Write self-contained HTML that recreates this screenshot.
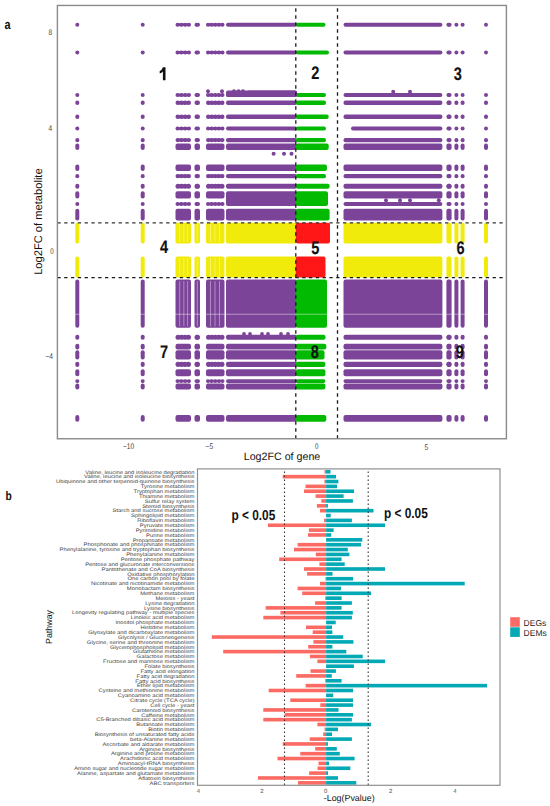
<!DOCTYPE html>
<html><head><meta charset="utf-8"><style>
html,body{margin:0;padding:0;background:#fff;}
body{width:550px;height:806px;overflow:hidden;position:relative;}
svg{position:absolute;left:0;top:0;}
text{font-family:"Liberation Sans", sans-serif;text-rendering:geometricPrecision;}
</style></head><body>
<svg width="550" height="806" viewBox="0 0 550 806">
<rect x="0" y="0" width="550" height="806" fill="#fff"/>
<!-- panel a -->
<text transform="translate(7.45,28.6) scale(0.82,1)" font-size="13.3" font-weight="bold" text-anchor="middle" fill="#111">a</text>
<g>
<rect x="75.30" y="22.70" width="4.00" height="4.00" rx="2.00" fill="#7C4499"/>
<rect x="140.70" y="22.70" width="4.00" height="4.00" rx="2.00" fill="#7C4499"/>
<circle cx="177.50" cy="24.70" r="2.00" fill="#7C4499"/>
<circle cx="181.33" cy="24.70" r="2.00" fill="#7C4499"/>
<circle cx="185.17" cy="24.70" r="2.00" fill="#7C4499"/>
<circle cx="189.00" cy="24.70" r="2.00" fill="#7C4499"/>
<rect x="177.50" y="23.26" width="11.50" height="2.88" fill="#7C4499"/>
<circle cx="196.50" cy="24.70" r="2.00" fill="#7C4499"/>
<circle cx="198.00" cy="24.70" r="2.00" fill="#7C4499"/>
<rect x="196.50" y="23.26" width="1.50" height="2.88" fill="#7C4499"/>
<circle cx="208.00" cy="24.70" r="2.00" fill="#7C4499"/>
<circle cx="211.62" cy="24.70" r="2.00" fill="#7C4499"/>
<circle cx="215.25" cy="24.70" r="2.00" fill="#7C4499"/>
<circle cx="218.88" cy="24.70" r="2.00" fill="#7C4499"/>
<circle cx="222.50" cy="24.70" r="2.00" fill="#7C4499"/>
<rect x="208.00" y="23.26" width="14.50" height="2.88" fill="#7C4499"/>
<circle cx="448.40" cy="24.70" r="2.00" fill="#7C4499"/>
<circle cx="449.60" cy="24.70" r="2.00" fill="#7C4499"/>
<rect x="448.40" y="23.26" width="1.20" height="2.88" fill="#7C4499"/>
<rect x="454.40" y="22.70" width="4.00" height="4.00" rx="2.00" fill="#7C4499"/>
<rect x="460.60" y="22.70" width="4.00" height="4.00" rx="2.00" fill="#7C4499"/>
<rect x="484.00" y="22.70" width="4.00" height="4.00" rx="2.00" fill="#7C4499"/>
<rect x="226.00" y="22.70" width="71.00" height="4.00" rx="2.00" fill="#7C4499"/>
<rect x="295.80" y="22.70" width="29.70" height="4.00" rx="2.00" fill="#03BA03"/>
<rect x="343.50" y="22.70" width="98.90" height="4.00" rx="2.00" fill="#7C4499"/>
<rect x="75.30" y="50.40" width="4.00" height="4.00" rx="2.00" fill="#7C4499"/>
<rect x="140.70" y="50.40" width="4.00" height="4.00" rx="2.00" fill="#7C4499"/>
<circle cx="177.50" cy="52.40" r="2.00" fill="#7C4499"/>
<circle cx="181.33" cy="52.40" r="2.00" fill="#7C4499"/>
<circle cx="185.17" cy="52.40" r="2.00" fill="#7C4499"/>
<circle cx="189.00" cy="52.40" r="2.00" fill="#7C4499"/>
<rect x="177.50" y="50.96" width="11.50" height="2.88" fill="#7C4499"/>
<circle cx="196.50" cy="52.40" r="2.00" fill="#7C4499"/>
<circle cx="198.00" cy="52.40" r="2.00" fill="#7C4499"/>
<rect x="196.50" y="50.96" width="1.50" height="2.88" fill="#7C4499"/>
<circle cx="208.00" cy="52.40" r="2.00" fill="#7C4499"/>
<circle cx="211.62" cy="52.40" r="2.00" fill="#7C4499"/>
<circle cx="215.25" cy="52.40" r="2.00" fill="#7C4499"/>
<circle cx="218.88" cy="52.40" r="2.00" fill="#7C4499"/>
<circle cx="222.50" cy="52.40" r="2.00" fill="#7C4499"/>
<rect x="208.00" y="50.96" width="14.50" height="2.88" fill="#7C4499"/>
<circle cx="448.40" cy="52.40" r="2.00" fill="#7C4499"/>
<circle cx="449.60" cy="52.40" r="2.00" fill="#7C4499"/>
<rect x="448.40" y="50.96" width="1.20" height="2.88" fill="#7C4499"/>
<rect x="454.40" y="50.40" width="4.00" height="4.00" rx="2.00" fill="#7C4499"/>
<rect x="460.60" y="50.40" width="4.00" height="4.00" rx="2.00" fill="#7C4499"/>
<rect x="484.00" y="50.40" width="4.00" height="4.00" rx="2.00" fill="#7C4499"/>
<rect x="226.00" y="50.40" width="71.00" height="4.00" rx="2.00" fill="#7C4499"/>
<rect x="295.80" y="50.40" width="33.20" height="4.00" rx="2.00" fill="#03BA03"/>
<rect x="343.50" y="50.40" width="98.90" height="4.00" rx="2.00" fill="#7C4499"/>
<rect x="75.30" y="93.10" width="4.00" height="4.00" rx="2.00" fill="#7C4499"/>
<rect x="140.70" y="93.10" width="4.00" height="4.00" rx="2.00" fill="#7C4499"/>
<circle cx="177.50" cy="95.10" r="2.00" fill="#7C4499"/>
<circle cx="181.33" cy="95.10" r="2.00" fill="#7C4499"/>
<circle cx="185.17" cy="95.10" r="2.00" fill="#7C4499"/>
<circle cx="189.00" cy="95.10" r="2.00" fill="#7C4499"/>
<rect x="177.50" y="93.66" width="11.50" height="2.88" fill="#7C4499"/>
<circle cx="196.50" cy="95.10" r="2.00" fill="#7C4499"/>
<circle cx="198.00" cy="95.10" r="2.00" fill="#7C4499"/>
<rect x="196.50" y="93.66" width="1.50" height="2.88" fill="#7C4499"/>
<circle cx="208.00" cy="95.10" r="2.00" fill="#7C4499"/>
<circle cx="211.62" cy="95.10" r="2.00" fill="#7C4499"/>
<circle cx="215.25" cy="95.10" r="2.00" fill="#7C4499"/>
<circle cx="218.88" cy="95.10" r="2.00" fill="#7C4499"/>
<circle cx="222.50" cy="95.10" r="2.00" fill="#7C4499"/>
<rect x="208.00" y="93.66" width="14.50" height="2.88" fill="#7C4499"/>
<circle cx="448.40" cy="95.10" r="2.00" fill="#7C4499"/>
<circle cx="449.60" cy="95.10" r="2.00" fill="#7C4499"/>
<rect x="448.40" y="93.66" width="1.20" height="2.88" fill="#7C4499"/>
<rect x="454.40" y="93.10" width="4.00" height="4.00" rx="2.00" fill="#7C4499"/>
<rect x="460.60" y="93.10" width="4.00" height="4.00" rx="2.00" fill="#7C4499"/>
<rect x="484.00" y="93.10" width="4.00" height="4.00" rx="2.00" fill="#7C4499"/>
<rect x="226.00" y="93.10" width="71.00" height="4.00" rx="2.00" fill="#7C4499"/>
<rect x="226.00" y="90.60" width="71.00" height="6.50" rx="2.00" fill="#7C4499"/>
<rect x="295.80" y="93.10" width="30.20" height="4.00" rx="2.00" fill="#03BA03"/>
<rect x="343.50" y="93.10" width="98.90" height="4.00" rx="2.00" fill="#7C4499"/>
<rect x="247.00" y="90.60" width="50.00" height="6.50" rx="2.00" fill="#7C4499"/>
<circle cx="208.00" cy="91.20" r="2.0" fill="#7C4499"/>
<circle cx="222.00" cy="91.20" r="2.0" fill="#7C4499"/>
<circle cx="234.00" cy="91.20" r="2.0" fill="#7C4499"/>
<circle cx="238.50" cy="91.20" r="2.0" fill="#7C4499"/>
<circle cx="243.00" cy="91.20" r="2.0" fill="#7C4499"/>
<circle cx="393.20" cy="91.80" r="2.0" fill="#7C4499"/>
<circle cx="410.00" cy="91.80" r="2.0" fill="#7C4499"/>
<rect x="75.30" y="100.60" width="4.00" height="4.50" rx="2.00" fill="#7C4499"/>
<rect x="140.70" y="100.60" width="4.00" height="4.50" rx="2.00" fill="#7C4499"/>
<circle cx="177.75" cy="102.85" r="2.25" fill="#7C4499"/>
<circle cx="181.42" cy="102.85" r="2.25" fill="#7C4499"/>
<circle cx="185.08" cy="102.85" r="2.25" fill="#7C4499"/>
<circle cx="188.75" cy="102.85" r="2.25" fill="#7C4499"/>
<rect x="177.75" y="101.23" width="11.00" height="3.24" fill="#7C4499"/>
<circle cx="196.75" cy="102.85" r="2.25" fill="#7C4499"/>
<circle cx="197.75" cy="102.85" r="2.25" fill="#7C4499"/>
<rect x="196.75" y="101.23" width="1.00" height="3.24" fill="#7C4499"/>
<circle cx="208.25" cy="102.85" r="2.25" fill="#7C4499"/>
<circle cx="211.75" cy="102.85" r="2.25" fill="#7C4499"/>
<circle cx="215.25" cy="102.85" r="2.25" fill="#7C4499"/>
<circle cx="218.75" cy="102.85" r="2.25" fill="#7C4499"/>
<circle cx="222.25" cy="102.85" r="2.25" fill="#7C4499"/>
<rect x="208.25" y="101.23" width="14.00" height="3.24" fill="#7C4499"/>
<circle cx="448.65" cy="102.85" r="2.25" fill="#7C4499"/>
<circle cx="449.35" cy="102.85" r="2.25" fill="#7C4499"/>
<rect x="448.65" y="101.23" width="0.70" height="3.24" fill="#7C4499"/>
<rect x="454.40" y="100.60" width="4.00" height="4.50" rx="2.00" fill="#7C4499"/>
<rect x="460.60" y="100.60" width="4.00" height="4.50" rx="2.00" fill="#7C4499"/>
<rect x="484.00" y="100.60" width="4.00" height="4.50" rx="2.00" fill="#7C4499"/>
<rect x="226.00" y="100.60" width="71.00" height="4.50" rx="2.00" fill="#7C4499"/>
<rect x="295.80" y="100.60" width="30.20" height="4.50" rx="2.00" fill="#03BA03"/>
<rect x="343.50" y="100.60" width="98.90" height="4.50" rx="2.00" fill="#7C4499"/>
<rect x="75.30" y="114.60" width="4.00" height="4.40" rx="2.00" fill="#7C4499"/>
<rect x="140.70" y="114.60" width="4.00" height="4.40" rx="2.00" fill="#7C4499"/>
<circle cx="177.70" cy="116.80" r="2.20" fill="#7C4499"/>
<circle cx="181.40" cy="116.80" r="2.20" fill="#7C4499"/>
<circle cx="185.10" cy="116.80" r="2.20" fill="#7C4499"/>
<circle cx="188.80" cy="116.80" r="2.20" fill="#7C4499"/>
<rect x="177.70" y="115.22" width="11.10" height="3.17" fill="#7C4499"/>
<circle cx="196.70" cy="116.80" r="2.20" fill="#7C4499"/>
<circle cx="197.80" cy="116.80" r="2.20" fill="#7C4499"/>
<rect x="196.70" y="115.22" width="1.10" height="3.17" fill="#7C4499"/>
<circle cx="208.20" cy="116.80" r="2.20" fill="#7C4499"/>
<circle cx="211.72" cy="116.80" r="2.20" fill="#7C4499"/>
<circle cx="215.25" cy="116.80" r="2.20" fill="#7C4499"/>
<circle cx="218.77" cy="116.80" r="2.20" fill="#7C4499"/>
<circle cx="222.30" cy="116.80" r="2.20" fill="#7C4499"/>
<rect x="208.20" y="115.22" width="14.10" height="3.17" fill="#7C4499"/>
<circle cx="448.60" cy="116.80" r="2.20" fill="#7C4499"/>
<circle cx="449.40" cy="116.80" r="2.20" fill="#7C4499"/>
<rect x="448.60" y="115.22" width="0.80" height="3.17" fill="#7C4499"/>
<rect x="454.40" y="114.60" width="4.00" height="4.40" rx="2.00" fill="#7C4499"/>
<rect x="460.60" y="114.60" width="4.00" height="4.40" rx="2.00" fill="#7C4499"/>
<rect x="484.00" y="114.60" width="4.00" height="4.40" rx="2.00" fill="#7C4499"/>
<rect x="226.00" y="114.60" width="71.00" height="4.40" rx="2.00" fill="#7C4499"/>
<rect x="295.80" y="114.60" width="32.90" height="4.40" rx="2.00" fill="#03BA03"/>
<rect x="343.50" y="114.60" width="98.90" height="4.40" rx="2.00" fill="#7C4499"/>
<rect x="75.30" y="126.50" width="4.00" height="4.10" rx="2.00" fill="#7C4499"/>
<rect x="140.70" y="126.50" width="4.00" height="4.10" rx="2.00" fill="#7C4499"/>
<circle cx="177.55" cy="128.55" r="2.05" fill="#7C4499"/>
<circle cx="181.35" cy="128.55" r="2.05" fill="#7C4499"/>
<circle cx="185.15" cy="128.55" r="2.05" fill="#7C4499"/>
<circle cx="188.95" cy="128.55" r="2.05" fill="#7C4499"/>
<rect x="177.55" y="127.07" width="11.40" height="2.95" fill="#7C4499"/>
<circle cx="196.55" cy="128.55" r="2.05" fill="#7C4499"/>
<circle cx="197.95" cy="128.55" r="2.05" fill="#7C4499"/>
<rect x="196.55" y="127.07" width="1.40" height="2.95" fill="#7C4499"/>
<circle cx="208.05" cy="128.55" r="2.05" fill="#7C4499"/>
<circle cx="211.65" cy="128.55" r="2.05" fill="#7C4499"/>
<circle cx="215.25" cy="128.55" r="2.05" fill="#7C4499"/>
<circle cx="218.85" cy="128.55" r="2.05" fill="#7C4499"/>
<circle cx="222.45" cy="128.55" r="2.05" fill="#7C4499"/>
<rect x="208.05" y="127.07" width="14.40" height="2.95" fill="#7C4499"/>
<circle cx="448.45" cy="128.55" r="2.05" fill="#7C4499"/>
<circle cx="449.55" cy="128.55" r="2.05" fill="#7C4499"/>
<rect x="448.45" y="127.07" width="1.10" height="2.95" fill="#7C4499"/>
<rect x="454.40" y="126.50" width="4.00" height="4.10" rx="2.00" fill="#7C4499"/>
<rect x="460.60" y="126.50" width="4.00" height="4.10" rx="2.00" fill="#7C4499"/>
<rect x="484.00" y="126.50" width="4.00" height="4.10" rx="2.00" fill="#7C4499"/>
<rect x="226.00" y="126.50" width="71.00" height="4.10" rx="2.00" fill="#7C4499"/>
<rect x="295.80" y="126.50" width="30.20" height="4.10" rx="2.00" fill="#03BA03"/>
<rect x="351.00" y="126.50" width="91.40" height="4.10" rx="2.00" fill="#7C4499"/>
<rect x="75.30" y="137.90" width="4.00" height="4.30" rx="2.00" fill="#7C4499"/>
<rect x="140.70" y="137.90" width="4.00" height="4.30" rx="2.00" fill="#7C4499"/>
<circle cx="177.65" cy="140.05" r="2.15" fill="#7C4499"/>
<circle cx="181.38" cy="140.05" r="2.15" fill="#7C4499"/>
<circle cx="185.12" cy="140.05" r="2.15" fill="#7C4499"/>
<circle cx="188.85" cy="140.05" r="2.15" fill="#7C4499"/>
<rect x="177.65" y="138.50" width="11.20" height="3.10" fill="#7C4499"/>
<circle cx="196.65" cy="140.05" r="2.15" fill="#7C4499"/>
<circle cx="197.85" cy="140.05" r="2.15" fill="#7C4499"/>
<rect x="196.65" y="138.50" width="1.20" height="3.10" fill="#7C4499"/>
<circle cx="208.15" cy="140.05" r="2.15" fill="#7C4499"/>
<circle cx="211.70" cy="140.05" r="2.15" fill="#7C4499"/>
<circle cx="215.25" cy="140.05" r="2.15" fill="#7C4499"/>
<circle cx="218.80" cy="140.05" r="2.15" fill="#7C4499"/>
<circle cx="222.35" cy="140.05" r="2.15" fill="#7C4499"/>
<rect x="208.15" y="138.50" width="14.20" height="3.10" fill="#7C4499"/>
<circle cx="448.55" cy="140.05" r="2.15" fill="#7C4499"/>
<circle cx="449.45" cy="140.05" r="2.15" fill="#7C4499"/>
<rect x="448.55" y="138.50" width="0.90" height="3.10" fill="#7C4499"/>
<rect x="454.40" y="137.90" width="4.00" height="4.30" rx="2.00" fill="#7C4499"/>
<rect x="460.60" y="137.90" width="4.00" height="4.30" rx="2.00" fill="#7C4499"/>
<rect x="484.00" y="137.90" width="4.00" height="4.30" rx="2.00" fill="#7C4499"/>
<rect x="226.00" y="137.90" width="71.00" height="4.30" rx="2.00" fill="#7C4499"/>
<rect x="295.80" y="137.90" width="30.20" height="4.30" rx="2.00" fill="#03BA03"/>
<rect x="343.50" y="137.90" width="98.90" height="4.30" rx="2.00" fill="#7C4499"/>
<rect x="75.30" y="143.40" width="4.00" height="6.70" rx="2.00" fill="#7C4499"/>
<rect x="140.70" y="143.40" width="4.00" height="6.70" rx="2.00" fill="#7C4499"/>
<rect x="175.50" y="143.40" width="15.50" height="6.70" rx="2.00" fill="#7C4499"/>
<rect x="194.50" y="143.40" width="5.50" height="6.70" rx="2.00" fill="#7C4499"/>
<rect x="206.00" y="143.40" width="18.50" height="6.70" rx="2.00" fill="#7C4499"/>
<rect x="446.40" y="143.40" width="5.20" height="6.70" rx="2.00" fill="#7C4499"/>
<rect x="454.40" y="143.40" width="4.00" height="6.70" rx="2.00" fill="#7C4499"/>
<rect x="460.60" y="143.40" width="4.00" height="6.70" rx="2.00" fill="#7C4499"/>
<rect x="484.00" y="143.40" width="4.00" height="6.70" rx="2.00" fill="#7C4499"/>
<rect x="226.00" y="143.40" width="71.00" height="6.70" rx="2.00" fill="#7C4499"/>
<rect x="295.80" y="143.40" width="32.90" height="6.70" rx="2.00" fill="#03BA03"/>
<rect x="343.50" y="143.40" width="98.90" height="6.70" rx="2.00" fill="#7C4499"/>
<circle cx="273.60" cy="153.70" r="2.0" fill="#7C4499"/>
<circle cx="284.00" cy="153.70" r="2.0" fill="#7C4499"/>
<circle cx="291.50" cy="153.70" r="2.0" fill="#7C4499"/>
<rect x="75.30" y="164.60" width="4.00" height="6.30" rx="2.00" fill="#7C4499"/>
<rect x="140.70" y="164.60" width="4.00" height="6.30" rx="2.00" fill="#7C4499"/>
<rect x="175.50" y="164.60" width="15.50" height="6.30" rx="2.00" fill="#7C4499"/>
<rect x="194.50" y="164.60" width="5.50" height="6.30" rx="2.00" fill="#7C4499"/>
<rect x="206.00" y="164.60" width="18.50" height="6.30" rx="2.00" fill="#7C4499"/>
<rect x="446.40" y="164.60" width="5.20" height="6.30" rx="2.00" fill="#7C4499"/>
<rect x="454.40" y="164.60" width="4.00" height="6.30" rx="2.00" fill="#7C4499"/>
<rect x="460.60" y="164.60" width="4.00" height="6.30" rx="2.00" fill="#7C4499"/>
<rect x="484.00" y="164.60" width="4.00" height="6.30" rx="2.00" fill="#7C4499"/>
<rect x="226.00" y="164.60" width="71.00" height="6.30" rx="2.00" fill="#7C4499"/>
<rect x="295.80" y="164.60" width="31.20" height="6.30" rx="2.00" fill="#03BA03"/>
<rect x="343.50" y="164.60" width="98.90" height="6.30" rx="2.00" fill="#7C4499"/>
<rect x="75.30" y="173.90" width="4.00" height="4.40" rx="2.00" fill="#7C4499"/>
<rect x="140.70" y="173.90" width="4.00" height="4.40" rx="2.00" fill="#7C4499"/>
<circle cx="177.70" cy="176.10" r="2.20" fill="#7C4499"/>
<circle cx="181.40" cy="176.10" r="2.20" fill="#7C4499"/>
<circle cx="185.10" cy="176.10" r="2.20" fill="#7C4499"/>
<circle cx="188.80" cy="176.10" r="2.20" fill="#7C4499"/>
<rect x="177.70" y="174.52" width="11.10" height="3.17" fill="#7C4499"/>
<circle cx="196.70" cy="176.10" r="2.20" fill="#7C4499"/>
<circle cx="197.80" cy="176.10" r="2.20" fill="#7C4499"/>
<rect x="196.70" y="174.52" width="1.10" height="3.17" fill="#7C4499"/>
<circle cx="208.20" cy="176.10" r="2.20" fill="#7C4499"/>
<circle cx="211.72" cy="176.10" r="2.20" fill="#7C4499"/>
<circle cx="215.25" cy="176.10" r="2.20" fill="#7C4499"/>
<circle cx="218.77" cy="176.10" r="2.20" fill="#7C4499"/>
<circle cx="222.30" cy="176.10" r="2.20" fill="#7C4499"/>
<rect x="208.20" y="174.52" width="14.10" height="3.17" fill="#7C4499"/>
<circle cx="448.60" cy="176.10" r="2.20" fill="#7C4499"/>
<circle cx="449.40" cy="176.10" r="2.20" fill="#7C4499"/>
<rect x="448.60" y="174.52" width="0.80" height="3.17" fill="#7C4499"/>
<rect x="454.40" y="173.90" width="4.00" height="4.40" rx="2.00" fill="#7C4499"/>
<rect x="460.60" y="173.90" width="4.00" height="4.40" rx="2.00" fill="#7C4499"/>
<rect x="484.00" y="173.90" width="4.00" height="4.40" rx="2.00" fill="#7C4499"/>
<rect x="226.00" y="173.90" width="71.00" height="4.40" rx="2.00" fill="#7C4499"/>
<rect x="295.80" y="173.90" width="30.20" height="4.40" rx="2.00" fill="#03BA03"/>
<rect x="343.50" y="173.90" width="98.90" height="4.40" rx="2.00" fill="#7C4499"/>
<rect x="75.30" y="183.70" width="4.00" height="5.00" rx="2.00" fill="#7C4499"/>
<rect x="140.70" y="183.70" width="4.00" height="5.00" rx="2.00" fill="#7C4499"/>
<circle cx="178.00" cy="186.20" r="2.50" fill="#7C4499"/>
<circle cx="181.50" cy="186.20" r="2.50" fill="#7C4499"/>
<circle cx="185.00" cy="186.20" r="2.50" fill="#7C4499"/>
<circle cx="188.50" cy="186.20" r="2.50" fill="#7C4499"/>
<rect x="178.00" y="184.40" width="10.50" height="3.60" fill="#7C4499"/>
<circle cx="197.00" cy="186.20" r="2.50" fill="#7C4499"/>
<circle cx="197.50" cy="186.20" r="2.50" fill="#7C4499"/>
<rect x="197.00" y="184.40" width="0.50" height="3.60" fill="#7C4499"/>
<circle cx="208.50" cy="186.20" r="2.50" fill="#7C4499"/>
<circle cx="211.88" cy="186.20" r="2.50" fill="#7C4499"/>
<circle cx="215.25" cy="186.20" r="2.50" fill="#7C4499"/>
<circle cx="218.62" cy="186.20" r="2.50" fill="#7C4499"/>
<circle cx="222.00" cy="186.20" r="2.50" fill="#7C4499"/>
<rect x="208.50" y="184.40" width="13.50" height="3.60" fill="#7C4499"/>
<circle cx="448.90" cy="186.20" r="2.50" fill="#7C4499"/>
<circle cx="449.10" cy="186.20" r="2.50" fill="#7C4499"/>
<rect x="448.90" y="184.40" width="0.20" height="3.60" fill="#7C4499"/>
<rect x="454.40" y="183.70" width="4.00" height="5.00" rx="2.00" fill="#7C4499"/>
<rect x="460.60" y="183.70" width="4.00" height="5.00" rx="2.00" fill="#7C4499"/>
<rect x="484.00" y="183.70" width="4.00" height="5.00" rx="2.00" fill="#7C4499"/>
<rect x="226.00" y="183.70" width="71.00" height="5.00" rx="2.00" fill="#7C4499"/>
<rect x="295.80" y="183.70" width="33.80" height="5.00" rx="2.00" fill="#03BA03"/>
<rect x="343.50" y="183.70" width="98.90" height="5.00" rx="2.00" fill="#7C4499"/>
<rect x="75.30" y="191.20" width="4.00" height="7.40" rx="2.00" fill="#7C4499"/>
<rect x="140.70" y="191.20" width="4.00" height="7.40" rx="2.00" fill="#7C4499"/>
<rect x="175.50" y="191.20" width="15.50" height="7.40" rx="2.00" fill="#7C4499"/>
<rect x="194.50" y="191.20" width="5.50" height="7.40" rx="2.00" fill="#7C4499"/>
<rect x="206.00" y="191.20" width="18.50" height="7.40" rx="2.00" fill="#7C4499"/>
<rect x="446.40" y="191.20" width="5.20" height="7.40" rx="2.00" fill="#7C4499"/>
<rect x="454.40" y="191.20" width="4.00" height="7.40" rx="2.00" fill="#7C4499"/>
<rect x="460.60" y="191.20" width="4.00" height="7.40" rx="2.00" fill="#7C4499"/>
<rect x="484.00" y="191.20" width="4.00" height="7.40" rx="2.00" fill="#7C4499"/>
<rect x="75.30" y="202.00" width="4.00" height="3.90" rx="1.95" fill="#7C4499"/>
<rect x="140.70" y="202.00" width="4.00" height="3.90" rx="1.95" fill="#7C4499"/>
<circle cx="177.45" cy="203.95" r="1.95" fill="#7C4499"/>
<circle cx="181.32" cy="203.95" r="1.95" fill="#7C4499"/>
<circle cx="185.18" cy="203.95" r="1.95" fill="#7C4499"/>
<circle cx="189.05" cy="203.95" r="1.95" fill="#7C4499"/>
<rect x="177.45" y="202.55" width="11.60" height="2.81" fill="#7C4499"/>
<circle cx="196.45" cy="203.95" r="1.95" fill="#7C4499"/>
<circle cx="198.05" cy="203.95" r="1.95" fill="#7C4499"/>
<rect x="196.45" y="202.55" width="1.60" height="2.81" fill="#7C4499"/>
<circle cx="207.95" cy="203.95" r="1.95" fill="#7C4499"/>
<circle cx="211.60" cy="203.95" r="1.95" fill="#7C4499"/>
<circle cx="215.25" cy="203.95" r="1.95" fill="#7C4499"/>
<circle cx="218.90" cy="203.95" r="1.95" fill="#7C4499"/>
<circle cx="222.55" cy="203.95" r="1.95" fill="#7C4499"/>
<rect x="207.95" y="202.55" width="14.60" height="2.81" fill="#7C4499"/>
<circle cx="448.35" cy="203.95" r="1.95" fill="#7C4499"/>
<circle cx="449.65" cy="203.95" r="1.95" fill="#7C4499"/>
<rect x="448.35" y="202.55" width="1.30" height="2.81" fill="#7C4499"/>
<rect x="454.40" y="202.00" width="4.00" height="3.90" rx="1.95" fill="#7C4499"/>
<rect x="460.60" y="202.00" width="4.00" height="3.90" rx="1.95" fill="#7C4499"/>
<rect x="484.00" y="202.00" width="4.00" height="3.90" rx="1.95" fill="#7C4499"/>
<rect x="226.00" y="191.20" width="71.00" height="14.70" rx="2.00" fill="#7C4499"/>
<rect x="295.80" y="191.20" width="32.20" height="14.70" rx="2.00" fill="#03BA03"/>
<rect x="343.50" y="191.20" width="98.90" height="7.40" rx="2.00" fill="#7C4499"/>
<rect x="343.50" y="202.00" width="98.90" height="3.90" rx="1.95" fill="#7C4499"/>
<circle cx="386.00" cy="200.20" r="2.0" fill="#7C4499"/>
<circle cx="400.00" cy="200.20" r="2.0" fill="#7C4499"/>
<circle cx="410.00" cy="200.20" r="2.0" fill="#7C4499"/>
<circle cx="438.80" cy="200.20" r="2.0" fill="#7C4499"/>
<rect x="75.30" y="208.80" width="4.00" height="11.60" rx="2.00" fill="#7C4499"/>
<rect x="140.70" y="208.80" width="4.00" height="11.60" rx="2.00" fill="#7C4499"/>
<rect x="175.50" y="208.80" width="15.50" height="11.60" rx="2.00" fill="#7C4499"/>
<rect x="194.50" y="208.80" width="5.50" height="11.60" rx="2.00" fill="#7C4499"/>
<rect x="206.00" y="208.80" width="18.50" height="11.60" rx="2.00" fill="#7C4499"/>
<rect x="446.40" y="208.80" width="5.20" height="11.60" rx="2.00" fill="#7C4499"/>
<rect x="454.40" y="208.80" width="4.00" height="11.60" rx="2.00" fill="#7C4499"/>
<rect x="460.60" y="208.80" width="4.00" height="11.60" rx="2.00" fill="#7C4499"/>
<rect x="484.00" y="208.80" width="4.00" height="11.60" rx="2.00" fill="#7C4499"/>
<rect x="226.00" y="208.80" width="71.00" height="11.60" rx="2.00" fill="#7C4499"/>
<rect x="295.80" y="208.80" width="33.80" height="11.60" rx="2.00" fill="#03BA03"/>
<rect x="343.50" y="208.80" width="98.90" height="11.60" rx="2.00" fill="#7C4499"/>
<rect x="75.30" y="222.70" width="4.00" height="20.70" rx="2.00" fill="#F0EB0A"/>
<rect x="140.70" y="222.70" width="4.00" height="20.70" rx="2.00" fill="#F0EB0A"/>
<rect x="175.50" y="222.70" width="15.50" height="20.70" rx="2.00" fill="#F0EB0A"/>
<rect x="179.45" y="224.20" width="0.7" height="17.70" fill="#fff" fill-opacity="0.55"/>
<rect x="183.55" y="224.20" width="0.7" height="17.70" fill="#fff" fill-opacity="0.55"/>
<rect x="187.35" y="224.20" width="0.7" height="17.70" fill="#fff" fill-opacity="0.55"/>
<rect x="194.50" y="222.70" width="5.50" height="20.70" rx="2.00" fill="#F0EB0A"/>
<rect x="196.85" y="224.20" width="0.7" height="17.70" fill="#fff" fill-opacity="0.55"/>
<rect x="206.00" y="222.70" width="18.50" height="20.70" rx="2.00" fill="#F0EB0A"/>
<rect x="210.15" y="224.20" width="0.7" height="17.70" fill="#fff" fill-opacity="0.55"/>
<rect x="214.65" y="224.20" width="0.7" height="17.70" fill="#fff" fill-opacity="0.55"/>
<rect x="219.15" y="224.20" width="0.7" height="17.70" fill="#fff" fill-opacity="0.55"/>
<rect x="446.40" y="222.70" width="5.20" height="20.70" rx="2.00" fill="#F0EB0A"/>
<rect x="454.40" y="222.70" width="4.00" height="20.70" rx="2.00" fill="#F0EB0A"/>
<rect x="460.60" y="222.70" width="4.00" height="20.70" rx="2.00" fill="#F0EB0A"/>
<rect x="484.00" y="222.70" width="4.00" height="20.70" rx="2.00" fill="#F0EB0A"/>
<rect x="226.00" y="222.70" width="71.00" height="20.70" rx="2.00" fill="#F0EB0A"/>
<rect x="295.80" y="222.70" width="34.20" height="20.70" rx="2.00" fill="#FF1616"/>
<rect x="343.50" y="222.70" width="98.90" height="20.70" rx="2.00" fill="#F0EB0A"/>
<rect x="75.30" y="256.60" width="4.00" height="21.00" rx="2.00" fill="#F0EB0A"/>
<rect x="140.70" y="256.60" width="4.00" height="21.00" rx="2.00" fill="#F0EB0A"/>
<rect x="175.50" y="256.60" width="15.50" height="21.00" rx="2.00" fill="#F0EB0A"/>
<rect x="179.45" y="258.10" width="0.7" height="18.00" fill="#fff" fill-opacity="0.55"/>
<rect x="183.55" y="258.10" width="0.7" height="18.00" fill="#fff" fill-opacity="0.55"/>
<rect x="187.35" y="258.10" width="0.7" height="18.00" fill="#fff" fill-opacity="0.55"/>
<rect x="194.50" y="256.60" width="5.50" height="21.00" rx="2.00" fill="#F0EB0A"/>
<rect x="196.85" y="258.10" width="0.7" height="18.00" fill="#fff" fill-opacity="0.55"/>
<rect x="206.00" y="256.60" width="18.50" height="21.00" rx="2.00" fill="#F0EB0A"/>
<rect x="210.15" y="258.10" width="0.7" height="18.00" fill="#fff" fill-opacity="0.55"/>
<rect x="214.65" y="258.10" width="0.7" height="18.00" fill="#fff" fill-opacity="0.55"/>
<rect x="219.15" y="258.10" width="0.7" height="18.00" fill="#fff" fill-opacity="0.55"/>
<rect x="446.40" y="256.60" width="5.20" height="21.00" rx="2.00" fill="#F0EB0A"/>
<rect x="454.40" y="256.60" width="4.00" height="21.00" rx="2.00" fill="#F0EB0A"/>
<rect x="460.60" y="256.60" width="4.00" height="21.00" rx="2.00" fill="#F0EB0A"/>
<rect x="484.00" y="256.60" width="4.00" height="21.00" rx="2.00" fill="#F0EB0A"/>
<rect x="226.00" y="256.60" width="71.00" height="21.00" rx="2.00" fill="#F0EB0A"/>
<rect x="295.80" y="256.60" width="29.70" height="21.00" rx="2.00" fill="#FF1616"/>
<rect x="343.50" y="256.60" width="98.90" height="21.00" rx="2.00" fill="#F0EB0A"/>
<rect x="75.30" y="279.60" width="4.00" height="48.20" rx="2.00" fill="#7C4499"/>
<rect x="140.70" y="279.60" width="4.00" height="48.20" rx="2.00" fill="#7C4499"/>
<rect x="175.50" y="279.60" width="15.50" height="48.20" rx="2.00" fill="#7C4499"/>
<rect x="179.45" y="281.10" width="0.7" height="45.20" fill="#fff" fill-opacity="0.55"/>
<rect x="183.55" y="281.10" width="0.7" height="45.20" fill="#fff" fill-opacity="0.55"/>
<rect x="187.35" y="281.10" width="0.7" height="45.20" fill="#fff" fill-opacity="0.55"/>
<rect x="194.50" y="279.60" width="5.50" height="48.20" rx="2.00" fill="#7C4499"/>
<rect x="196.85" y="281.10" width="0.7" height="45.20" fill="#fff" fill-opacity="0.55"/>
<rect x="206.00" y="279.60" width="18.50" height="48.20" rx="2.00" fill="#7C4499"/>
<rect x="210.15" y="281.10" width="0.7" height="45.20" fill="#fff" fill-opacity="0.55"/>
<rect x="214.65" y="281.10" width="0.7" height="45.20" fill="#fff" fill-opacity="0.55"/>
<rect x="219.15" y="281.10" width="0.7" height="45.20" fill="#fff" fill-opacity="0.55"/>
<rect x="446.40" y="279.60" width="5.20" height="48.20" rx="2.00" fill="#7C4499"/>
<rect x="454.40" y="279.60" width="4.00" height="48.20" rx="2.00" fill="#7C4499"/>
<rect x="460.60" y="279.60" width="4.00" height="48.20" rx="2.00" fill="#7C4499"/>
<rect x="484.00" y="279.60" width="4.00" height="48.20" rx="2.00" fill="#7C4499"/>
<rect x="226.00" y="279.60" width="71.00" height="48.20" rx="2.00" fill="#7C4499"/>
<rect x="295.80" y="279.60" width="31.20" height="48.20" rx="2.00" fill="#03BA03"/>
<rect x="343.50" y="279.60" width="98.90" height="48.20" rx="2.00" fill="#7C4499"/>
<rect x="75.30" y="334.80" width="4.00" height="5.00" rx="2.00" fill="#7C4499"/>
<rect x="140.70" y="334.80" width="4.00" height="5.00" rx="2.00" fill="#7C4499"/>
<circle cx="178.00" cy="337.30" r="2.50" fill="#7C4499"/>
<circle cx="181.50" cy="337.30" r="2.50" fill="#7C4499"/>
<circle cx="185.00" cy="337.30" r="2.50" fill="#7C4499"/>
<circle cx="188.50" cy="337.30" r="2.50" fill="#7C4499"/>
<rect x="178.00" y="335.50" width="10.50" height="3.60" fill="#7C4499"/>
<circle cx="197.00" cy="337.30" r="2.50" fill="#7C4499"/>
<circle cx="197.50" cy="337.30" r="2.50" fill="#7C4499"/>
<rect x="197.00" y="335.50" width="0.50" height="3.60" fill="#7C4499"/>
<circle cx="208.50" cy="337.30" r="2.50" fill="#7C4499"/>
<circle cx="211.88" cy="337.30" r="2.50" fill="#7C4499"/>
<circle cx="215.25" cy="337.30" r="2.50" fill="#7C4499"/>
<circle cx="218.62" cy="337.30" r="2.50" fill="#7C4499"/>
<circle cx="222.00" cy="337.30" r="2.50" fill="#7C4499"/>
<rect x="208.50" y="335.50" width="13.50" height="3.60" fill="#7C4499"/>
<circle cx="448.90" cy="337.30" r="2.50" fill="#7C4499"/>
<circle cx="449.10" cy="337.30" r="2.50" fill="#7C4499"/>
<rect x="448.90" y="335.50" width="0.20" height="3.60" fill="#7C4499"/>
<rect x="454.40" y="334.80" width="4.00" height="5.00" rx="2.00" fill="#7C4499"/>
<rect x="460.60" y="334.80" width="4.00" height="5.00" rx="2.00" fill="#7C4499"/>
<rect x="484.00" y="334.80" width="4.00" height="5.00" rx="2.00" fill="#7C4499"/>
<rect x="226.00" y="334.80" width="71.00" height="5.00" rx="2.00" fill="#7C4499"/>
<rect x="295.80" y="334.80" width="29.70" height="5.00" rx="2.00" fill="#03BA03"/>
<rect x="343.50" y="334.80" width="98.90" height="5.00" rx="2.00" fill="#7C4499"/>
<circle cx="244.00" cy="334.00" r="1.9" fill="#7C4499"/>
<circle cx="250.00" cy="334.00" r="1.9" fill="#7C4499"/>
<circle cx="262.00" cy="334.00" r="1.9" fill="#7C4499"/>
<circle cx="268.00" cy="334.00" r="1.9" fill="#7C4499"/>
<circle cx="281.00" cy="334.00" r="1.9" fill="#7C4499"/>
<circle cx="288.00" cy="334.00" r="1.9" fill="#7C4499"/>
<rect x="75.30" y="343.80" width="4.00" height="5.80" rx="2.00" fill="#7C4499"/>
<rect x="140.70" y="343.80" width="4.00" height="5.80" rx="2.00" fill="#7C4499"/>
<rect x="175.50" y="343.80" width="15.50" height="5.80" rx="2.00" fill="#7C4499"/>
<rect x="194.50" y="343.80" width="5.50" height="5.80" rx="2.00" fill="#7C4499"/>
<rect x="206.00" y="343.80" width="18.50" height="5.80" rx="2.00" fill="#7C4499"/>
<rect x="446.40" y="343.80" width="5.20" height="5.80" rx="2.00" fill="#7C4499"/>
<rect x="454.40" y="343.80" width="4.00" height="5.80" rx="2.00" fill="#7C4499"/>
<rect x="460.60" y="343.80" width="4.00" height="5.80" rx="2.00" fill="#7C4499"/>
<rect x="484.00" y="343.80" width="4.00" height="5.80" rx="2.00" fill="#7C4499"/>
<rect x="226.00" y="343.80" width="71.00" height="5.80" rx="2.00" fill="#7C4499"/>
<rect x="295.80" y="343.80" width="30.50" height="5.80" rx="2.00" fill="#03BA03"/>
<rect x="343.50" y="343.80" width="98.90" height="5.80" rx="2.00" fill="#7C4499"/>
<rect x="75.30" y="350.30" width="4.00" height="9.10" rx="2.00" fill="#7C4499"/>
<rect x="140.70" y="350.30" width="4.00" height="9.10" rx="2.00" fill="#7C4499"/>
<rect x="175.50" y="350.30" width="15.50" height="9.10" rx="2.00" fill="#7C4499"/>
<rect x="194.50" y="350.30" width="5.50" height="9.10" rx="2.00" fill="#7C4499"/>
<rect x="206.00" y="350.30" width="18.50" height="9.10" rx="2.00" fill="#7C4499"/>
<rect x="446.40" y="350.30" width="5.20" height="9.10" rx="2.00" fill="#7C4499"/>
<rect x="454.40" y="350.30" width="4.00" height="9.10" rx="2.00" fill="#7C4499"/>
<rect x="460.60" y="350.30" width="4.00" height="9.10" rx="2.00" fill="#7C4499"/>
<rect x="484.00" y="350.30" width="4.00" height="9.10" rx="2.00" fill="#7C4499"/>
<rect x="226.00" y="350.30" width="71.00" height="9.10" rx="2.00" fill="#7C4499"/>
<rect x="295.80" y="350.30" width="28.70" height="9.10" rx="2.00" fill="#03BA03"/>
<rect x="343.50" y="350.30" width="98.90" height="9.10" rx="2.00" fill="#7C4499"/>
<rect x="75.30" y="361.80" width="4.00" height="5.10" rx="2.00" fill="#7C4499"/>
<rect x="140.70" y="361.80" width="4.00" height="5.10" rx="2.00" fill="#7C4499"/>
<circle cx="178.05" cy="364.35" r="2.55" fill="#7C4499"/>
<circle cx="181.52" cy="364.35" r="2.55" fill="#7C4499"/>
<circle cx="184.98" cy="364.35" r="2.55" fill="#7C4499"/>
<circle cx="188.45" cy="364.35" r="2.55" fill="#7C4499"/>
<rect x="178.05" y="362.51" width="10.40" height="3.67" fill="#7C4499"/>
<circle cx="197.05" cy="364.35" r="2.55" fill="#7C4499"/>
<circle cx="197.45" cy="364.35" r="2.55" fill="#7C4499"/>
<rect x="197.05" y="362.51" width="0.40" height="3.67" fill="#7C4499"/>
<circle cx="208.55" cy="364.35" r="2.55" fill="#7C4499"/>
<circle cx="211.90" cy="364.35" r="2.55" fill="#7C4499"/>
<circle cx="215.25" cy="364.35" r="2.55" fill="#7C4499"/>
<circle cx="218.60" cy="364.35" r="2.55" fill="#7C4499"/>
<circle cx="221.95" cy="364.35" r="2.55" fill="#7C4499"/>
<rect x="208.55" y="362.51" width="13.40" height="3.67" fill="#7C4499"/>
<circle cx="448.95" cy="364.35" r="2.55" fill="#7C4499"/>
<circle cx="449.05" cy="364.35" r="2.55" fill="#7C4499"/>
<rect x="448.95" y="362.51" width="0.10" height="3.67" fill="#7C4499"/>
<rect x="454.40" y="361.80" width="4.00" height="5.10" rx="2.00" fill="#7C4499"/>
<rect x="460.60" y="361.80" width="4.00" height="5.10" rx="2.00" fill="#7C4499"/>
<rect x="484.00" y="361.80" width="4.00" height="5.10" rx="2.00" fill="#7C4499"/>
<rect x="226.00" y="361.80" width="71.00" height="5.10" rx="2.00" fill="#7C4499"/>
<rect x="295.80" y="361.80" width="29.60" height="5.10" rx="2.00" fill="#03BA03"/>
<rect x="343.50" y="361.80" width="98.90" height="5.10" rx="2.00" fill="#7C4499"/>
<rect x="75.30" y="369.20" width="4.00" height="7.00" rx="2.00" fill="#7C4499"/>
<rect x="140.70" y="369.20" width="4.00" height="7.00" rx="2.00" fill="#7C4499"/>
<rect x="175.50" y="369.20" width="15.50" height="7.00" rx="2.00" fill="#7C4499"/>
<rect x="194.50" y="369.20" width="5.50" height="7.00" rx="2.00" fill="#7C4499"/>
<rect x="206.00" y="369.20" width="18.50" height="7.00" rx="2.00" fill="#7C4499"/>
<rect x="446.40" y="369.20" width="5.20" height="7.00" rx="2.00" fill="#7C4499"/>
<rect x="454.40" y="369.20" width="4.00" height="7.00" rx="2.00" fill="#7C4499"/>
<rect x="460.60" y="369.20" width="4.00" height="7.00" rx="2.00" fill="#7C4499"/>
<rect x="484.00" y="369.20" width="4.00" height="7.00" rx="2.00" fill="#7C4499"/>
<rect x="226.00" y="369.20" width="71.00" height="7.00" rx="2.00" fill="#7C4499"/>
<rect x="295.80" y="369.20" width="29.60" height="7.00" rx="2.00" fill="#03BA03"/>
<rect x="343.50" y="369.20" width="98.90" height="7.00" rx="2.00" fill="#7C4499"/>
<rect x="75.30" y="379.20" width="4.00" height="3.70" rx="1.85" fill="#7C4499"/>
<rect x="140.70" y="379.20" width="4.00" height="3.70" rx="1.85" fill="#7C4499"/>
<circle cx="177.35" cy="381.05" r="1.85" fill="#7C4499"/>
<circle cx="181.28" cy="381.05" r="1.85" fill="#7C4499"/>
<circle cx="185.22" cy="381.05" r="1.85" fill="#7C4499"/>
<circle cx="189.15" cy="381.05" r="1.85" fill="#7C4499"/>
<rect x="177.35" y="379.72" width="11.80" height="2.66" fill="#7C4499"/>
<circle cx="196.35" cy="381.05" r="1.85" fill="#7C4499"/>
<circle cx="198.15" cy="381.05" r="1.85" fill="#7C4499"/>
<rect x="196.35" y="379.72" width="1.80" height="2.66" fill="#7C4499"/>
<circle cx="207.85" cy="381.05" r="1.85" fill="#7C4499"/>
<circle cx="211.55" cy="381.05" r="1.85" fill="#7C4499"/>
<circle cx="215.25" cy="381.05" r="1.85" fill="#7C4499"/>
<circle cx="218.95" cy="381.05" r="1.85" fill="#7C4499"/>
<circle cx="222.65" cy="381.05" r="1.85" fill="#7C4499"/>
<rect x="207.85" y="379.72" width="14.80" height="2.66" fill="#7C4499"/>
<circle cx="448.25" cy="381.05" r="1.85" fill="#7C4499"/>
<circle cx="449.75" cy="381.05" r="1.85" fill="#7C4499"/>
<rect x="448.25" y="379.72" width="1.50" height="2.66" fill="#7C4499"/>
<rect x="454.40" y="379.20" width="4.00" height="3.70" rx="1.85" fill="#7C4499"/>
<rect x="460.60" y="379.20" width="4.00" height="3.70" rx="1.85" fill="#7C4499"/>
<rect x="484.00" y="379.20" width="4.00" height="3.70" rx="1.85" fill="#7C4499"/>
<rect x="226.00" y="379.20" width="71.00" height="3.70" rx="1.85" fill="#7C4499"/>
<rect x="295.80" y="379.20" width="29.60" height="3.70" rx="1.85" fill="#03BA03"/>
<rect x="343.50" y="379.20" width="98.90" height="3.70" rx="1.85" fill="#7C4499"/>
<rect x="75.30" y="383.60" width="4.00" height="5.80" rx="2.00" fill="#7C4499"/>
<rect x="140.70" y="383.60" width="4.00" height="5.80" rx="2.00" fill="#7C4499"/>
<rect x="175.50" y="383.60" width="15.50" height="5.80" rx="2.00" fill="#7C4499"/>
<rect x="194.50" y="383.60" width="5.50" height="5.80" rx="2.00" fill="#7C4499"/>
<rect x="206.00" y="383.60" width="18.50" height="5.80" rx="2.00" fill="#7C4499"/>
<rect x="446.40" y="383.60" width="5.20" height="5.80" rx="2.00" fill="#7C4499"/>
<rect x="454.40" y="383.60" width="4.00" height="5.80" rx="2.00" fill="#7C4499"/>
<rect x="460.60" y="383.60" width="4.00" height="5.80" rx="2.00" fill="#7C4499"/>
<rect x="484.00" y="383.60" width="4.00" height="5.80" rx="2.00" fill="#7C4499"/>
<rect x="226.00" y="383.60" width="71.00" height="5.80" rx="2.00" fill="#7C4499"/>
<rect x="295.80" y="383.60" width="29.60" height="5.80" rx="2.00" fill="#03BA03"/>
<rect x="343.50" y="383.60" width="98.90" height="5.80" rx="2.00" fill="#7C4499"/>
<rect x="75.30" y="415.00" width="4.00" height="6.80" rx="2.00" fill="#7C4499"/>
<rect x="140.70" y="415.00" width="4.00" height="6.80" rx="2.00" fill="#7C4499"/>
<rect x="175.50" y="415.00" width="15.50" height="6.80" rx="2.00" fill="#7C4499"/>
<rect x="194.50" y="415.00" width="5.50" height="6.80" rx="2.00" fill="#7C4499"/>
<rect x="206.00" y="415.00" width="18.50" height="6.80" rx="2.00" fill="#7C4499"/>
<rect x="446.40" y="415.00" width="5.20" height="6.80" rx="2.00" fill="#7C4499"/>
<rect x="454.40" y="415.00" width="4.00" height="6.80" rx="2.00" fill="#7C4499"/>
<rect x="460.60" y="415.00" width="4.00" height="6.80" rx="2.00" fill="#7C4499"/>
<rect x="484.00" y="415.00" width="4.00" height="6.80" rx="2.00" fill="#7C4499"/>
<rect x="226.00" y="415.00" width="71.00" height="6.80" rx="2.00" fill="#7C4499"/>
<rect x="295.80" y="415.00" width="30.50" height="6.80" rx="2.00" fill="#03BA03"/>
<rect x="343.50" y="415.00" width="98.90" height="6.80" rx="2.00" fill="#7C4499"/>
<rect x="57.4" y="313.8" width="449" height="0.8" fill="#ffffff" fill-opacity="0.55"/>
</g>
<line x1="295.8" y1="438.7" x2="295.8" y2="5.5" stroke="#1a1a1a" stroke-width="1.3" stroke-dasharray="3.4,3.6"/>
<line x1="337.5" y1="438.7" x2="337.5" y2="5.5" stroke="#1a1a1a" stroke-width="1.3" stroke-dasharray="3.4,3.6"/>
<line x1="57.4" y1="222.9" x2="506.4" y2="222.9" stroke="#333" stroke-width="1.3" stroke-dasharray="3.3,3.5"/>
<line x1="57.4" y1="277.6" x2="506.4" y2="277.6" stroke="#1a1a1a" stroke-width="1.3" stroke-dasharray="3.3,3.5"/>
<rect x="57.4" y="5.45" width="449" height="433.3" fill="none" stroke="#8a8a8a" stroke-width="1.4"/>
<path d="M162.9,67.2 L165.5,67.2 L165.5,80.3 L162.9,80.3 L162.9,71.4 Q161.7,72.7 159.7,73.4 L159.7,71.1 Q162.1,69.9 162.9,67.2 Z" fill="#111"/>
<g font-size="18.2" font-weight="bold" fill="#111" stroke="#111" stroke-width="0.15" text-anchor="middle">
<text transform="translate(315.2,79.3) scale(0.8,1)">2</text>
<text transform="translate(457.7,79.9) scale(0.8,1)">3</text>
<text transform="translate(164,253.4) scale(0.8,1)">4</text>
<text transform="translate(315.3,253.6) scale(0.8,1)">5</text>
<text transform="translate(460.5,254.4) scale(0.8,1)">6</text>
<text transform="translate(164,358.3) scale(0.8,1)">7</text>
<text transform="translate(314.9,358.1) scale(0.8,1)">8</text>
<text transform="translate(459.8,357.6) scale(0.8,1)">9</text>
</g>
<g font-size="8.2" fill="#444" text-anchor="middle">
<text transform="translate(50.4,34.9) scale(0.8,1)">8</text>
<text transform="translate(50.4,131.4) scale(0.8,1)">4</text>
<text transform="translate(52,253.7) scale(0.76,1)">0</text>
<text transform="translate(49.2,358.5) scale(0.8,1)">&#8722;4</text>
<text transform="translate(128.5,448.8) scale(0.8,1)">&#8722;10</text>
<text transform="translate(209.3,448.8) scale(0.8,1)">&#8722;5</text>
<text transform="translate(316.8,449.2) scale(0.76,1)">0</text>
<text transform="translate(426.2,450) scale(0.8,1)">5</text>
</g>
<text x="282" y="460" font-size="10.68" text-anchor="middle" fill="#111">Log2FC of gene</text>
<text transform="translate(42.1,221.6) rotate(-90)" font-size="11.15" text-anchor="middle" fill="#111">Log2FC of metabolite</text>

<!-- panel b -->
<text transform="translate(8.55,499.9) scale(0.82,1)" font-size="12.5" font-weight="bold" text-anchor="middle" fill="#111">b</text>
<g>
<rect x="324.50" y="470.00" width="1.60" height="3.6" fill="#FB6B64"/>
<rect x="326.10" y="470.00" width="4.40" height="3.6" fill="#03A9B5"/>
<rect x="282.70" y="474.86" width="43.40" height="3.6" fill="#FB6B64"/>
<rect x="326.10" y="474.86" width="9.90" height="3.6" fill="#03A9B5"/>
<rect x="324.40" y="479.72" width="1.70" height="3.6" fill="#FB6B64"/>
<rect x="326.10" y="479.72" width="12.30" height="3.6" fill="#03A9B5"/>
<rect x="305.50" y="484.58" width="20.60" height="3.6" fill="#FB6B64"/>
<rect x="326.10" y="484.58" width="10.90" height="3.6" fill="#03A9B5"/>
<rect x="304.00" y="489.44" width="22.10" height="3.6" fill="#FB6B64"/>
<rect x="326.10" y="489.44" width="27.90" height="3.6" fill="#03A9B5"/>
<rect x="315.60" y="494.30" width="10.50" height="3.6" fill="#FB6B64"/>
<rect x="326.10" y="494.30" width="17.50" height="3.6" fill="#03A9B5"/>
<rect x="321.30" y="499.16" width="4.80" height="3.6" fill="#FB6B64"/>
<rect x="326.10" y="499.16" width="26.80" height="3.6" fill="#03A9B5"/>
<rect x="316.90" y="504.02" width="9.20" height="3.6" fill="#FB6B64"/>
<rect x="326.10" y="504.02" width="1.80" height="3.6" fill="#03A9B5"/>
<rect x="320.00" y="508.88" width="6.10" height="3.6" fill="#FB6B64"/>
<rect x="326.10" y="508.88" width="47.40" height="3.6" fill="#03A9B5"/>
<rect x="326.10" y="513.74" width="4.60" height="3.6" fill="#03A9B5"/>
<rect x="324.10" y="518.60" width="2.00" height="3.6" fill="#FB6B64"/>
<rect x="326.10" y="518.60" width="25.80" height="3.6" fill="#03A9B5"/>
<rect x="268.00" y="523.46" width="58.10" height="3.6" fill="#FB6B64"/>
<rect x="326.10" y="523.46" width="58.90" height="3.6" fill="#03A9B5"/>
<rect x="308.90" y="528.32" width="17.20" height="3.6" fill="#FB6B64"/>
<rect x="326.10" y="528.32" width="7.50" height="3.6" fill="#03A9B5"/>
<rect x="308.00" y="533.18" width="18.10" height="3.6" fill="#FB6B64"/>
<rect x="326.10" y="533.18" width="5.10" height="3.6" fill="#03A9B5"/>
<rect x="326.10" y="538.04" width="36.20" height="3.6" fill="#03A9B5"/>
<rect x="297.60" y="542.90" width="28.50" height="3.6" fill="#FB6B64"/>
<rect x="326.10" y="542.90" width="35.00" height="3.6" fill="#03A9B5"/>
<rect x="294.00" y="547.76" width="32.10" height="3.6" fill="#FB6B64"/>
<rect x="326.10" y="547.76" width="21.70" height="3.6" fill="#03A9B5"/>
<rect x="315.80" y="552.62" width="10.30" height="3.6" fill="#FB6B64"/>
<rect x="326.10" y="552.62" width="23.30" height="3.6" fill="#03A9B5"/>
<rect x="279.20" y="557.48" width="46.90" height="3.6" fill="#FB6B64"/>
<rect x="326.10" y="557.48" width="15.50" height="3.6" fill="#03A9B5"/>
<rect x="319.40" y="562.34" width="6.70" height="3.6" fill="#FB6B64"/>
<rect x="326.10" y="562.34" width="18.60" height="3.6" fill="#03A9B5"/>
<rect x="304.00" y="567.20" width="22.10" height="3.6" fill="#FB6B64"/>
<rect x="326.10" y="567.20" width="58.90" height="3.6" fill="#03A9B5"/>
<rect x="307.10" y="572.06" width="19.00" height="3.6" fill="#FB6B64"/>
<rect x="326.10" y="572.06" width="6.40" height="3.6" fill="#03A9B5"/>
<rect x="325.50" y="576.92" width="0.60" height="3.6" fill="#FB6B64"/>
<rect x="326.10" y="576.92" width="26.90" height="3.6" fill="#03A9B5"/>
<rect x="320.00" y="581.78" width="6.10" height="3.6" fill="#FB6B64"/>
<rect x="326.10" y="581.78" width="138.60" height="3.6" fill="#03A9B5"/>
<rect x="297.60" y="586.64" width="28.50" height="3.6" fill="#FB6B64"/>
<rect x="326.10" y="586.64" width="14.90" height="3.6" fill="#03A9B5"/>
<rect x="302.20" y="591.50" width="23.90" height="3.6" fill="#FB6B64"/>
<rect x="326.10" y="591.50" width="44.90" height="3.6" fill="#03A9B5"/>
<rect x="325.20" y="596.36" width="0.90" height="3.6" fill="#FB6B64"/>
<rect x="326.10" y="596.36" width="15.50" height="3.6" fill="#03A9B5"/>
<rect x="315.10" y="601.22" width="11.00" height="3.6" fill="#FB6B64"/>
<rect x="326.10" y="601.22" width="25.80" height="3.6" fill="#03A9B5"/>
<rect x="265.70" y="606.08" width="60.40" height="3.6" fill="#FB6B64"/>
<rect x="326.10" y="606.08" width="15.50" height="3.6" fill="#03A9B5"/>
<rect x="280.40" y="610.94" width="45.70" height="3.6" fill="#FB6B64"/>
<rect x="326.10" y="610.94" width="26.70" height="3.6" fill="#03A9B5"/>
<rect x="263.30" y="615.80" width="62.80" height="3.6" fill="#FB6B64"/>
<rect x="326.10" y="615.80" width="25.80" height="3.6" fill="#03A9B5"/>
<rect x="326.10" y="620.66" width="9.60" height="3.6" fill="#03A9B5"/>
<rect x="306.00" y="625.52" width="20.10" height="3.6" fill="#FB6B64"/>
<rect x="326.10" y="625.52" width="5.90" height="3.6" fill="#03A9B5"/>
<rect x="312.70" y="630.38" width="13.40" height="3.6" fill="#FB6B64"/>
<rect x="326.10" y="630.38" width="6.30" height="3.6" fill="#03A9B5"/>
<rect x="211.80" y="635.24" width="114.30" height="3.6" fill="#FB6B64"/>
<rect x="326.10" y="635.24" width="17.10" height="3.6" fill="#03A9B5"/>
<rect x="313.40" y="640.10" width="12.70" height="3.6" fill="#FB6B64"/>
<rect x="326.10" y="640.10" width="27.30" height="3.6" fill="#03A9B5"/>
<rect x="308.20" y="644.96" width="17.90" height="3.6" fill="#FB6B64"/>
<rect x="326.10" y="644.96" width="6.30" height="3.6" fill="#03A9B5"/>
<rect x="223.20" y="649.82" width="102.90" height="3.6" fill="#FB6B64"/>
<rect x="326.10" y="649.82" width="20.20" height="3.6" fill="#03A9B5"/>
<rect x="309.90" y="654.68" width="16.20" height="3.6" fill="#FB6B64"/>
<rect x="326.10" y="654.68" width="36.60" height="3.6" fill="#03A9B5"/>
<rect x="317.40" y="659.54" width="8.70" height="3.6" fill="#FB6B64"/>
<rect x="326.10" y="659.54" width="58.90" height="3.6" fill="#03A9B5"/>
<rect x="326.10" y="664.40" width="27.80" height="3.6" fill="#03A9B5"/>
<rect x="310.50" y="669.26" width="15.60" height="3.6" fill="#FB6B64"/>
<rect x="326.10" y="669.26" width="9.80" height="3.6" fill="#03A9B5"/>
<rect x="296.20" y="674.12" width="29.90" height="3.6" fill="#FB6B64"/>
<rect x="326.10" y="674.12" width="5.70" height="3.6" fill="#03A9B5"/>
<rect x="325.20" y="678.98" width="0.90" height="3.6" fill="#FB6B64"/>
<rect x="326.10" y="678.98" width="15.50" height="3.6" fill="#03A9B5"/>
<rect x="305.60" y="683.84" width="20.50" height="3.6" fill="#FB6B64"/>
<rect x="326.10" y="683.84" width="160.90" height="3.6" fill="#03A9B5"/>
<rect x="268.70" y="688.70" width="57.40" height="3.6" fill="#FB6B64"/>
<rect x="326.10" y="688.70" width="26.90" height="3.6" fill="#03A9B5"/>
<rect x="326.10" y="693.56" width="7.10" height="3.6" fill="#03A9B5"/>
<rect x="290.30" y="698.42" width="35.80" height="3.6" fill="#FB6B64"/>
<rect x="326.10" y="698.42" width="26.90" height="3.6" fill="#03A9B5"/>
<rect x="320.30" y="703.28" width="5.80" height="3.6" fill="#FB6B64"/>
<rect x="326.10" y="703.28" width="26.90" height="3.6" fill="#03A9B5"/>
<rect x="263.30" y="708.14" width="62.80" height="3.6" fill="#FB6B64"/>
<rect x="326.10" y="708.14" width="12.40" height="3.6" fill="#03A9B5"/>
<rect x="284.70" y="713.00" width="41.40" height="3.6" fill="#FB6B64"/>
<rect x="326.10" y="713.00" width="26.90" height="3.6" fill="#03A9B5"/>
<rect x="263.30" y="717.86" width="62.80" height="3.6" fill="#FB6B64"/>
<rect x="326.10" y="717.86" width="25.80" height="3.6" fill="#03A9B5"/>
<rect x="317.40" y="722.72" width="8.70" height="3.6" fill="#FB6B64"/>
<rect x="326.10" y="722.72" width="44.90" height="3.6" fill="#03A9B5"/>
<rect x="324.60" y="727.58" width="1.50" height="3.6" fill="#FB6B64"/>
<rect x="326.10" y="727.58" width="11.90" height="3.6" fill="#03A9B5"/>
<rect x="323.20" y="732.44" width="2.90" height="3.6" fill="#FB6B64"/>
<rect x="326.10" y="732.44" width="5.90" height="3.6" fill="#03A9B5"/>
<rect x="309.70" y="737.30" width="16.40" height="3.6" fill="#FB6B64"/>
<rect x="326.10" y="737.30" width="25.80" height="3.6" fill="#03A9B5"/>
<rect x="282.70" y="742.16" width="43.40" height="3.6" fill="#FB6B64"/>
<rect x="326.10" y="742.16" width="1.80" height="3.6" fill="#03A9B5"/>
<rect x="315.20" y="747.02" width="10.90" height="3.6" fill="#FB6B64"/>
<rect x="326.10" y="747.02" width="10.70" height="3.6" fill="#03A9B5"/>
<rect x="300.30" y="751.88" width="25.80" height="3.6" fill="#FB6B64"/>
<rect x="326.10" y="751.88" width="13.70" height="3.6" fill="#03A9B5"/>
<rect x="277.50" y="756.74" width="48.60" height="3.6" fill="#FB6B64"/>
<rect x="326.10" y="756.74" width="28.50" height="3.6" fill="#03A9B5"/>
<rect x="318.50" y="761.60" width="7.60" height="3.6" fill="#FB6B64"/>
<rect x="326.10" y="761.60" width="2.90" height="3.6" fill="#03A9B5"/>
<rect x="317.60" y="766.46" width="8.50" height="3.6" fill="#FB6B64"/>
<rect x="326.10" y="766.46" width="24.20" height="3.6" fill="#03A9B5"/>
<rect x="309.10" y="771.32" width="17.00" height="3.6" fill="#FB6B64"/>
<rect x="326.10" y="771.32" width="1.90" height="3.6" fill="#03A9B5"/>
<rect x="257.90" y="776.18" width="68.20" height="3.6" fill="#FB6B64"/>
<rect x="326.10" y="776.18" width="11.90" height="3.6" fill="#03A9B5"/>
<rect x="298.00" y="781.04" width="28.10" height="3.6" fill="#FB6B64"/>
<rect x="326.10" y="781.04" width="30.20" height="3.6" fill="#03A9B5"/>
</g>
<line x1="284.5" y1="785" x2="284.5" y2="469" stroke="#333" stroke-width="1.1" stroke-dasharray="1.6,2.4"/>
<line x1="368.2" y1="785" x2="368.2" y2="469" stroke="#333" stroke-width="1.1" stroke-dasharray="1.6,2.4"/>
<rect x="197.5" y="468.9" width="302.5" height="316.4" fill="none" stroke="#8f8f8f" stroke-width="1.2"/>
<g font-size="5.0" fill="#444" text-anchor="end">
<text x="194.5" y="473.55" textLength="109.17" lengthAdjust="spacingAndGlyphs">Valine, leucine and isoleucine degradation</text>
<text x="194.5" y="478.41" textLength="110.46" lengthAdjust="spacingAndGlyphs">Valine, leucine and isoleucine biosynthesis</text>
<text x="194.5" y="483.27" textLength="138.55" lengthAdjust="spacingAndGlyphs">Ubiquinone and other terpenoid-quinone biosynthesis</text>
<text x="194.5" y="488.13" textLength="53.64" lengthAdjust="spacingAndGlyphs">Tyrosine metabolism</text>
<text x="194.5" y="492.99" textLength="60.91" lengthAdjust="spacingAndGlyphs">Tryptophan metabolism</text>
<text x="194.5" y="497.85" textLength="55.59" lengthAdjust="spacingAndGlyphs">Thiamine metabolism</text>
<text x="194.5" y="502.71" textLength="49.74" lengthAdjust="spacingAndGlyphs">Sulfur relay system</text>
<text x="194.5" y="507.57" textLength="52.35" lengthAdjust="spacingAndGlyphs">Steroid biosynthesis</text>
<text x="194.5" y="512.43" textLength="81.94" lengthAdjust="spacingAndGlyphs">Starch and sucrose metabolism</text>
<text x="194.5" y="517.29" textLength="63.41" lengthAdjust="spacingAndGlyphs">Sphingolipid metabolism</text>
<text x="194.5" y="522.15" textLength="57.22" lengthAdjust="spacingAndGlyphs">Riboflavin metabolism</text>
<text x="194.5" y="527.01" textLength="54.62" lengthAdjust="spacingAndGlyphs">Pyruvate metabolism</text>
<text x="194.5" y="531.87" textLength="58.84" lengthAdjust="spacingAndGlyphs">Pyrimidine metabolism</text>
<text x="194.5" y="536.73" textLength="48.45" lengthAdjust="spacingAndGlyphs">Purine metabolism</text>
<text x="194.5" y="541.59" textLength="61.78" lengthAdjust="spacingAndGlyphs">Propanoate metabolism</text>
<text x="194.5" y="546.45" textLength="110.90" lengthAdjust="spacingAndGlyphs">Phosphonate and phosphinate metabolism</text>
<text x="194.5" y="551.31" textLength="134.96" lengthAdjust="spacingAndGlyphs">Phenylalanine, tyrosine and tryptophan biosynthesis</text>
<text x="194.5" y="556.17" textLength="68.29" lengthAdjust="spacingAndGlyphs">Phenylalanine metabolism</text>
<text x="194.5" y="561.03" textLength="73.83" lengthAdjust="spacingAndGlyphs">Pentose phosphate pathway</text>
<text x="194.5" y="565.89" textLength="109.27" lengthAdjust="spacingAndGlyphs">Pentose and glucuronate interconversions</text>
<text x="194.5" y="570.75" textLength="93.01" lengthAdjust="spacingAndGlyphs">Pantothenate and CoA biosynthesis</text>
<text x="194.5" y="575.61" textLength="67.31" lengthAdjust="spacingAndGlyphs">Oxidative phosphorylation</text>
<text x="194.5" y="580.47" textLength="67.00" lengthAdjust="spacingAndGlyphs">One carbon pool by folate</text>
<text x="194.5" y="585.33" textLength="103.40" lengthAdjust="spacingAndGlyphs">Nicotinate and nicotinamide metabolism</text>
<text x="194.5" y="590.19" textLength="67.63" lengthAdjust="spacingAndGlyphs">Monobactam biosynthesis</text>
<text x="194.5" y="595.05" textLength="54.30" lengthAdjust="spacingAndGlyphs">Methane metabolism</text>
<text x="194.5" y="599.91" textLength="39.01" lengthAdjust="spacingAndGlyphs">Meiosis - yeast</text>
<text x="194.5" y="604.77" textLength="49.22" lengthAdjust="spacingAndGlyphs">Lysine degradation</text>
<text x="194.5" y="609.63" textLength="50.51" lengthAdjust="spacingAndGlyphs">Lysine biosynthesis</text>
<text x="194.5" y="614.49" textLength="122.59" lengthAdjust="spacingAndGlyphs">Longevity regulating pathway - multiple species</text>
<text x="194.5" y="619.35" textLength="63.73" lengthAdjust="spacingAndGlyphs">Linoleic acid metabolism</text>
<text x="194.5" y="624.21" textLength="79.02" lengthAdjust="spacingAndGlyphs">Inositol phosphate metabolism</text>
<text x="194.5" y="629.07" textLength="53.97" lengthAdjust="spacingAndGlyphs">Histidine metabolism</text>
<text x="194.5" y="633.93" textLength="106.33" lengthAdjust="spacingAndGlyphs">Glyoxylate and dicarboxylate metabolism</text>
<text x="194.5" y="638.79" textLength="76.41" lengthAdjust="spacingAndGlyphs">Glycolysis / Gluconeogenesis</text>
<text x="194.5" y="643.65" textLength="107.63" lengthAdjust="spacingAndGlyphs">Glycine, serine and threonine metabolism</text>
<text x="194.5" y="648.51" textLength="84.54" lengthAdjust="spacingAndGlyphs">Glycerophospholipid metabolism</text>
<text x="194.5" y="653.37" textLength="61.46" lengthAdjust="spacingAndGlyphs">Glutathione metabolism</text>
<text x="194.5" y="658.23" textLength="57.87" lengthAdjust="spacingAndGlyphs">Galactose metabolism</text>
<text x="194.5" y="663.09" textLength="91.37" lengthAdjust="spacingAndGlyphs">Fructose and mannose metabolism</text>
<text x="194.5" y="667.95" textLength="50.08" lengthAdjust="spacingAndGlyphs">Folate biosynthesis</text>
<text x="194.5" y="672.81" textLength="53.98" lengthAdjust="spacingAndGlyphs">Fatty acid elongation</text>
<text x="194.5" y="677.67" textLength="57.89" lengthAdjust="spacingAndGlyphs">Fatty acid degradation</text>
<text x="194.5" y="682.53" textLength="59.18" lengthAdjust="spacingAndGlyphs">Fatty acid biosynthesis</text>
<text x="194.5" y="687.39" textLength="57.55" lengthAdjust="spacingAndGlyphs">Ether lipid metabolism</text>
<text x="194.5" y="692.25" textLength="95.93" lengthAdjust="spacingAndGlyphs">Cysteine and methionine metabolism</text>
<text x="194.5" y="697.11" textLength="76.74" lengthAdjust="spacingAndGlyphs">Cyanoamino acid metabolism</text>
<text x="194.5" y="701.97" textLength="64.36" lengthAdjust="spacingAndGlyphs">Citrate cycle (TCA cycle)</text>
<text x="194.5" y="706.83" textLength="44.21" lengthAdjust="spacingAndGlyphs">Cell cycle - yeast</text>
<text x="194.5" y="711.69" textLength="62.44" lengthAdjust="spacingAndGlyphs">Carotenoid biosynthesis</text>
<text x="194.5" y="716.55" textLength="53.22" lengthAdjust="spacingAndGlyphs">Caffeine metabolism</text>
<text x="194.5" y="721.41" textLength="98.20" lengthAdjust="spacingAndGlyphs">C5-Branched dibasic acid metabolism</text>
<text x="194.5" y="726.27" textLength="58.21" lengthAdjust="spacingAndGlyphs">Butanoate metabolism</text>
<text x="194.5" y="731.13" textLength="46.17" lengthAdjust="spacingAndGlyphs">Biotin metabolism</text>
<text x="194.5" y="735.99" textLength="99.83" lengthAdjust="spacingAndGlyphs">Biosynthesis of unsaturated fatty acids</text>
<text x="194.5" y="740.85" textLength="64.38" lengthAdjust="spacingAndGlyphs">beta-Alanine metabolism</text>
<text x="194.5" y="745.71" textLength="92.03" lengthAdjust="spacingAndGlyphs">Ascorbate and aldarate metabolism</text>
<text x="194.5" y="750.57" textLength="55.28" lengthAdjust="spacingAndGlyphs">Arginine biosynthesis</text>
<text x="194.5" y="755.43" textLength="83.57" lengthAdjust="spacingAndGlyphs">Arginine and proline metabolism</text>
<text x="194.5" y="760.29" textLength="74.46" lengthAdjust="spacingAndGlyphs">Arachidonic acid metabolism</text>
<text x="194.5" y="765.15" textLength="76.73" lengthAdjust="spacingAndGlyphs">Aminoacyl-tRNA biosynthesis</text>
<text x="194.5" y="770.01" textLength="120.32" lengthAdjust="spacingAndGlyphs">Amino sugar and nucleotide sugar metabolism</text>
<text x="194.5" y="774.87" textLength="117.39" lengthAdjust="spacingAndGlyphs">Alanine, aspartate and glutamate metabolism</text>
<text x="194.5" y="779.73" textLength="56.25" lengthAdjust="spacingAndGlyphs">Aflatoxin biosynthesis</text>
<text x="194.5" y="784.59" textLength="44.87" lengthAdjust="spacingAndGlyphs">ABC transporters</text>
</g>
<text transform="translate(253.35,519.6) scale(0.817,1)" font-size="14.5" font-weight="bold" text-anchor="middle" fill="#111">p &lt; 0.05</text>
<text transform="translate(405.85,517.6) scale(0.817,1)" font-size="14.5" font-weight="bold" text-anchor="middle" fill="#111">p &lt; 0.05</text>
<g font-size="6" fill="#555" text-anchor="middle">
<text x="198.4" y="792.5">4</text>
<text x="262" y="792.5">2</text>
<text x="325.6" y="792.5">0</text>
<text x="390.7" y="792.5">2</text>
<text x="454.9" y="792.5">4</text>
</g>
<text x="349.2" y="800.8" font-size="8.9" text-anchor="middle" fill="#111">-Log(Pvalue)</text>
<text transform="translate(52.2,627) rotate(-90)" font-size="8.87" text-anchor="middle" fill="#111">Pathway</text>
<rect x="510.2" y="617.2" width="9.6" height="9.6" fill="#FB6B64"/>
<rect x="510.2" y="627.3" width="9.6" height="9.6" fill="#03A9B5"/>
<text x="523.6" y="625.5" font-size="8.5" fill="#222">DEGs</text>
<text x="523.6" y="635.5" font-size="8.5" fill="#222">DEMs</text>
</svg>
</body></html>
